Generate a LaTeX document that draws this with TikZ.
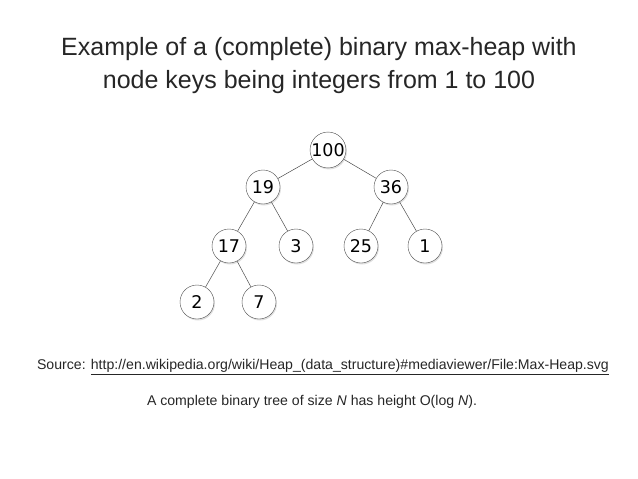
\documentclass[tikz,border=0pt]{standalone}
\usepackage{fontspec}
\usetikzlibrary{shadows}
\setmainfont{Liberation Sans}
\newfontfamily\djv{DejaVu Sans}
\begin{document}
\begin{tikzpicture}[x=1pt,y=-1pt,
  hn/.style={circle,draw=black!70,fill=white,minimum size=34pt,inner sep=0pt,font=\djv\fontsize{17.5}{17.5}\selectfont,drop shadow={opacity=0.25,shadow xshift=1pt,shadow yshift=-1.5pt}},
  ed/.style={draw=black!70,line width=0.5pt}]
\useasboundingbox (0,0) rectangle (638,479);
\node[font=\fontsize{25}{33}\selectfont,align=center,text=black!85] (title) at (319,66) {Example of a (complete) binary max-heap with\\node keys being integers from 1 to 100};
\coordinate (c100) at (328,150);
\coordinate (c19) at (263,187);
\coordinate (c36) at (391,187);
\coordinate (c17) at (229,246);
\coordinate (c3) at (296,246);
\coordinate (c25) at (361,246);
\coordinate (c1) at (425,246);
\coordinate (c2) at (197,302);
\coordinate (c7) at (259,302);
\foreach \a/\b in {100/19,100/36,19/17,19/3,36/25,36/1,17/2,17/7}
  \draw[ed] (c\a) -- (c\b);
\foreach \k in {100,19,36,17,3,25,1,2,7}
  \node[hn] (n\k) at (c\k) {\k};
\node[font=\fontsize{14.1}{16}\selectfont,text=black!85] (src) at (323,367) {Source: \underline{http://en.wikipedia.org/wiki/Heap\_(data\_structure)\#mediaviewer/File:Max-Heap.svg}};
\node[font=\fontsize{14.1}{16}\selectfont,text=black!85] (note) at (312,402) {A complete binary tree of size \textit{N} has height O(log \textit{N}).};
\end{tikzpicture}
\end{document}
